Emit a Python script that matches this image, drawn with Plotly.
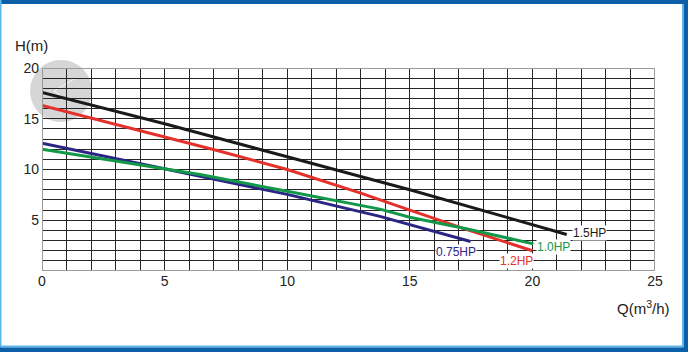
import plotly.graph_objects as go

# ---- data ----
q_075 = [0, 5, 10, 13.78, 15, 17.48]
h_075 = [12.6, 10.05, 7.55, 5.38, 4.56, 2.9]

q_10 = [0, 5, 6.44, 10, 13.78, 15, 17.3, 20.04]
h_10 = [12.0, 10.05, 9.5, 7.85, 6.1, 5.3, 4.17, 2.67]

q_12 = [0, 5, 7.26, 10, 12.97, 15, 17.3, 20.0]
h_12 = [16.3, 13.2, 11.8, 10.0, 7.7, 6.0, 4.1, 2.0]

q_15 = [0, 5, 10, 15, 21.4]
h_15 = [17.6, 14.5, 11.25, 8.0, 3.6]

series_names = ["0.75HP", "1.0HP", "1.2HP", "1.5HP"]
x_ticks = [0, 5, 10, 15, 20, 25]
y_ticks = [5, 10, 15, 20]

# ---- layout geometry ----
W, H = 688, 352
ML, MR, MT, MB = 42, 33, 68, 81
PW, PH = W - ML - MR, H - MT - MB


def px(x):
    return (x - ML) / PW


def py(y):
    return (H - MB - y) / PH


FONT = "Liberation Sans, Arial, sans-serif"
GRID = "#262626"
colors = {"0.75HP": "#2b2584", "1.0HP": "#13984a", "1.2HP": "#e4312b", "1.5HP": "#1a1a1a"}

fig = go.Figure()
data = {"0.75HP": (q_075, h_075), "1.0HP": (q_10, h_10), "1.2HP": (q_12, h_12), "1.5HP": (q_15, h_15)}
for name in ["0.75HP", "1.2HP", "1.0HP", "1.5HP"]:
    qx, hy = data[name]
    fig.add_trace(go.Scatter(x=qx, y=hy, mode="lines", name=name,
                             line=dict(color=colors[name], width=3), showlegend=False,
                             hoverinfo="skip"))

# labels near line ends
label_offsets = {"1.5HP": ("left", 5, 1), "1.0HP": ("left", 3, -3),
                 "0.75HP": ("right", 6, -10), "1.2HP": ("right", 2, -10)}
for name in series_names:
    qx, hy = data[name]
    anchor, xs, ys = label_offsets[name]
    fig.add_annotation(x=qx[-1], y=hy[-1], xref="x", yref="y", text=name,
                       showarrow=False, xanchor=anchor, yanchor="middle",
                       xshift=xs, yshift=ys, bgcolor="white", borderpad=0,
                       font=dict(family=FONT, size=12, color=colors[name]))

shapes = []
# grey circle decoration (top-left)
shapes.append(dict(type="circle", xref="paper", yref="paper", layer="below",
                   x0=px(30), x1=px(92), y0=py(122), y1=py(60),
                   fillcolor="#d6d6d6", line=dict(width=0)))
shapes.append(dict(type="path", xref="paper", yref="paper", layer="below",
                   path=f"M {px(76)} {py(78)} L {px(54)} {py(91)} L {px(70)} {py(102)}",
                   line=dict(color="rgba(255,255,255,0.8)", width=1)))
# grey outer border of grid
shapes.append(dict(type="rect", xref="x", yref="y", x0=0, x1=25, y0=0, y1=20,
                   line=dict(color="#9a9a9a", width=2), layer="above"))
# blue frame
DARK, LIGHT = "#0b5ea8", "#5db5ec"
frame = [
    (0, 0, W, 4, DARK),
    (0, 0, 1.5, H, LIGHT),
    (682, 4, 684, 348, LIGHT),
    (684, 0, W, H, DARK),
    (0, 345.5, 684, 347.5, LIGHT),
    (0, 347.5, W, H, DARK),
]
for x0, y0, x1, y1, c in frame:
    shapes.append(dict(type="rect", xref="paper", yref="paper",
                       x0=px(x0), x1=px(x1), y0=py(y1), y1=py(y0),
                       fillcolor=c, line=dict(width=0), layer="above"))

grid_minor = dict(tickmode="linear", tick0=0, dtick=1, showgrid=True,
                  gridcolor=GRID, gridwidth=1.4, ticks="")

fig.update_layout(
    width=W, height=H,
    margin=dict(l=ML, r=MR, t=MT, b=MB),
    paper_bgcolor="white", plot_bgcolor="white",
    shapes=shapes,
    font=dict(family=FONT, size=14, color="#222"),
    xaxis=dict(range=[0, 25], tickmode="array", tickvals=x_ticks,
               ticktext=[str(v) for v in x_ticks],
               showgrid=True, gridcolor=GRID, gridwidth=1.4, zeroline=False,
               showline=False, ticks="", fixedrange=True, minor=grid_minor,
               tickfont=dict(family=FONT, size=14, color="#222")),
    yaxis=dict(range=[0, 20], tickmode="array", tickvals=y_ticks,
               ticktext=[str(v) for v in y_ticks],
               showgrid=True, gridcolor=GRID, gridwidth=1.4, zeroline=False,
               showline=False, ticks="", fixedrange=True, ticklabelstandoff=2,
               minor=grid_minor,
               tickfont=dict(family=FONT, size=14, color="#222")),
)

fig.add_annotation(x=px(13), y=py(45), xref="paper", yref="paper", text="H(m)",
                   showarrow=False, xanchor="left", yanchor="middle",
                   font=dict(family=FONT, size=15, color="#222"))
fig.add_annotation(x=px(672), y=py(307), xref="paper", yref="paper", text="Q(m<sup>3</sup>/h)",
                   showarrow=False, xanchor="right", yanchor="middle",
                   font=dict(family=FONT, size=15, color="#222"))

fig.write_html("out.html")
